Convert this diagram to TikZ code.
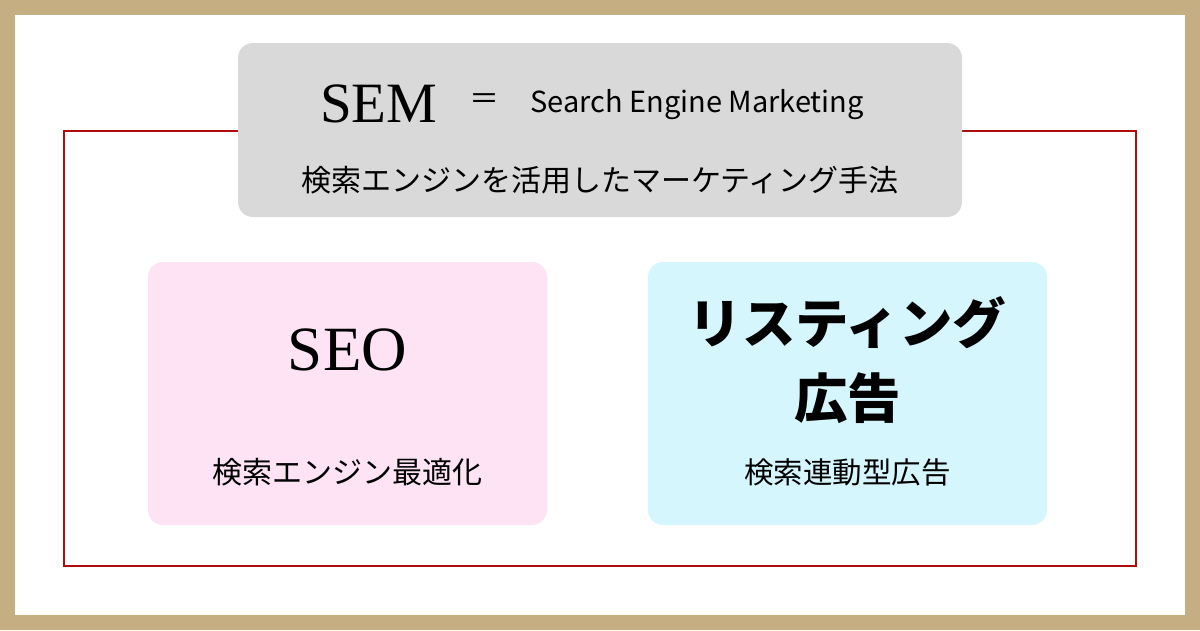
\documentclass[tikz,border=0pt]{standalone}
\usepackage{fontspec}
\setmainfont{Liberation Serif}
\newfontfamily\jpfont{Noto Sans CJK JP}
\usetikzlibrary{positioning}
\definecolor{frameTan}{HTML}{C5AF82}
\definecolor{lineRed}{HTML}{B00C0C}
\definecolor{semGray}{HTML}{D9D9D9}
\definecolor{seoPink}{HTML}{FDE3F4}
\definecolor{listCyan}{HTML}{D5F6FD}

\begin{document}
\begin{tikzpicture}[x=1pt, y=-1pt,
  box/.style={draw=none, rounded corners=15pt, inner sep=0pt, minimum width=399pt, minimum height=263pt},
  caption/.style={inner sep=0pt, font=\jpfont\fontsize{30}{36}\selectfont}]
\useasboundingbox (0,0) rectangle (1200,630);
\fill[frameTan] (0,0) rectangle (1200,630);
\fill[white] (15,15) rectangle (1185,615);
\draw[lineRed, line width=1.5pt] (64,131) rectangle (1136,566);

\node[box, fill=semGray, minimum width=724pt, minimum height=174pt] (semBox) at (600,130) {};
\node[box, fill=seoPink] (seoBox) at (347.5,393.5) {};
\node[box, fill=listCyan] (listBox) at (847.5,393.5) {};

\node[inner sep=0pt, anchor=base west, font=\fontsize{57}{57}\selectfont] (semTitle) at (320,122) {SEM};
\node[caption] (semEq) at (484,102) {＝};
\node[inner sep=0pt, anchor=base west, font=\jpfont\fontsize{29}{34}\selectfont] (semFull) at (530,112) {Search Engine Marketing};
\node[caption] (semDesc) at (600,180) {検索エンジンを活用したマーケティング手法};

\node[inner sep=0pt, anchor=base, font=\fontsize{63}{63}\selectfont] (seoTitle) at (347.5,370) {SEO};
\node[caption] (seoDesc) at (347.5,472) {検索エンジン最適化};

\node[inner sep=0pt, align=center, font=\jpfont\bfseries\fontsize{53.5}{75}\selectfont] (listTitle) at (847.5,360) {リスティング\\広告};
\node[caption, font=\jpfont\fontsize{29.5}{36}\selectfont] (listDesc) at (847.5,472) {検索連動型広告};
\end{tikzpicture}
\end{document}
